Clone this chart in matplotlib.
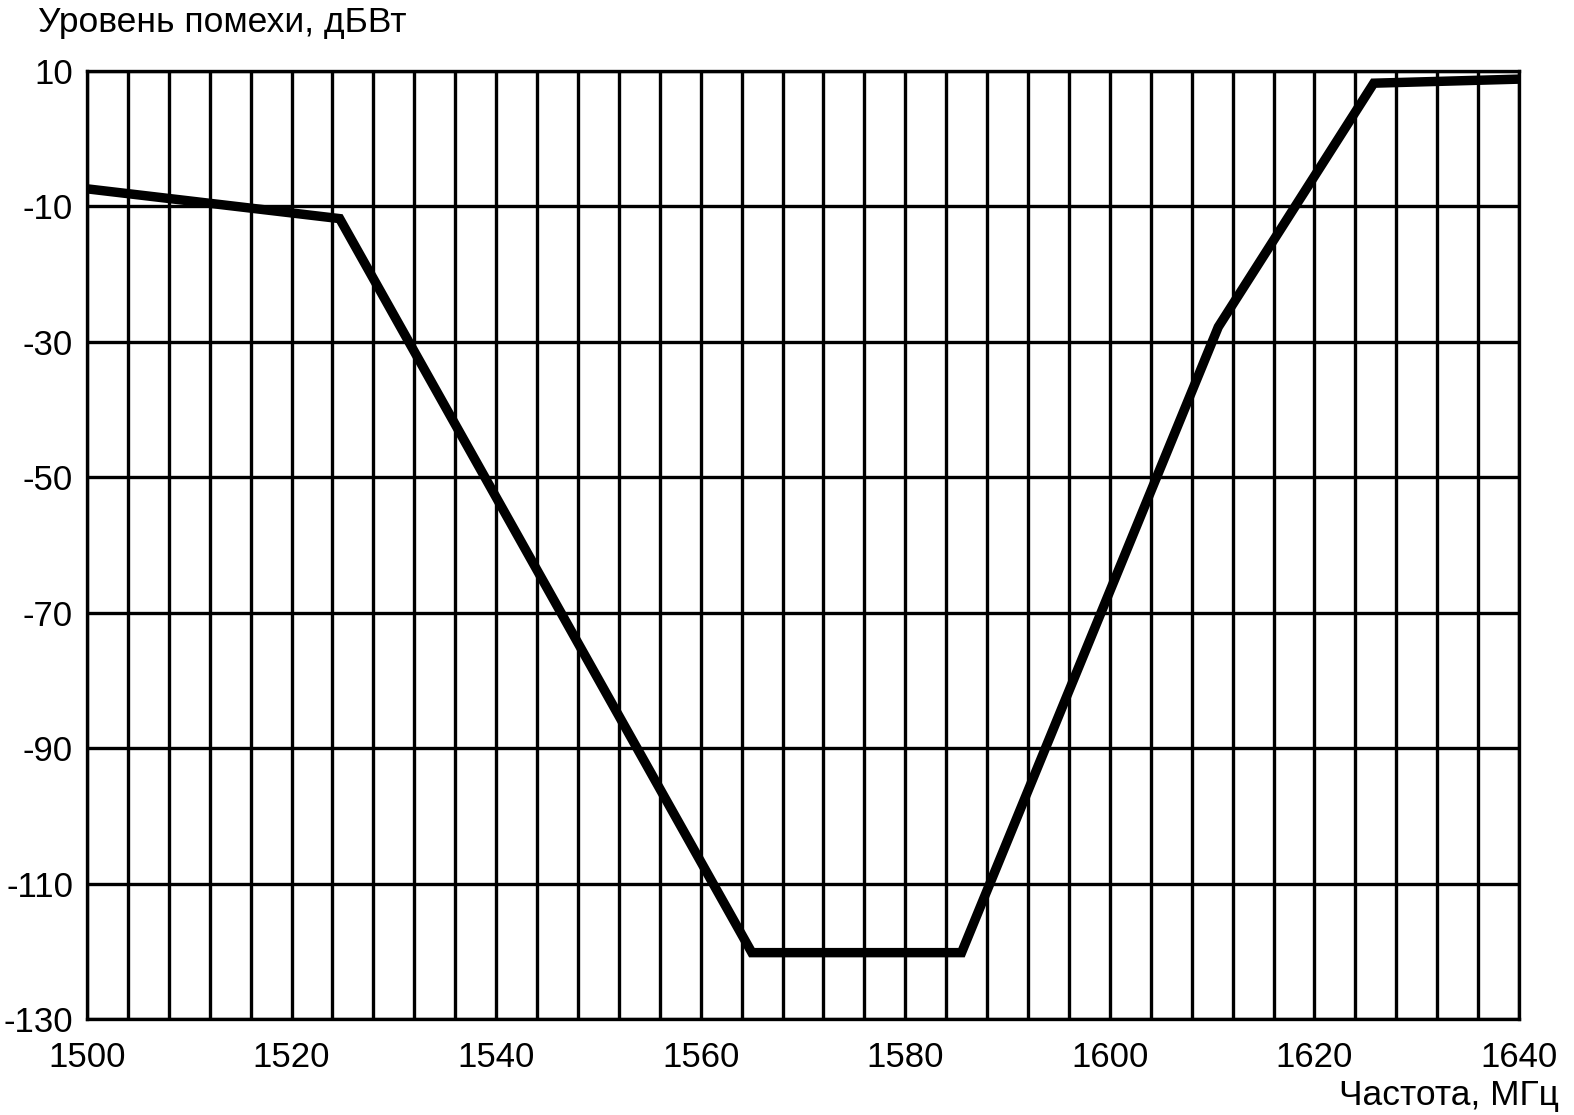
import matplotlib
matplotlib.use("Agg")
import matplotlib.pyplot as plt
import numpy as np

# частота, МГц и уровень помехи, дБВт
freq = [1500, 1524.7, 1565, 1585.5, 1610.6, 1625.8, 1640]
level = [-7.4, -11.8, -120.2, -120.2, -27.8, 8.2, 8.8]

x_ticks = [1500, 1520, 1540, 1560, 1580, 1600, 1620, 1640]
y_ticks = [10, -10, -30, -50, -70, -90, -110, -130]

plt.rcParams['font.family'] = ['Liberation Sans', 'DejaVu Sans']
plt.rcParams['axes.unicode_minus'] = False

fig = plt.figure(figsize=(15.74, 11.15), dpi=100)
ax = fig.add_axes([87/1574, 1 - 1019/1115, (1519 - 87)/1574, (1019 - 71)/1115])

ax.plot(freq, level, color='black', linewidth=6.8, solid_joinstyle='miter', zorder=3)

ax.set_xlim(1500, 1640)
ax.set_ylim(-130, 10)
ax.set_xticks(x_ticks)
ax.set_xticks(np.arange(1500, 1641, 4), minor=True)
ax.set_yticks(y_ticks)
ax.grid(which='both', axis='x', color='black', linewidth=2.4)
ax.grid(which='major', axis='y', color='black', linewidth=2.4)
ax.tick_params(which='both', length=0, labelsize=25)
ax.tick_params(axis='y', pad=10)
ax.tick_params(axis='x', pad=16)
for s in ax.spines.values():
    s.set_linewidth(2.4)

fig.text(38/1574, 1 - 6/1115, 'Уровень помехи, дБВт', fontsize=25.5, ha='left', va='top')
fig.text(1559/1574, 1 - 1112/1115, 'Частота, МГц', fontsize=25.5, ha='right', va='bottom')

fig.savefig('out.png', dpi=100)
